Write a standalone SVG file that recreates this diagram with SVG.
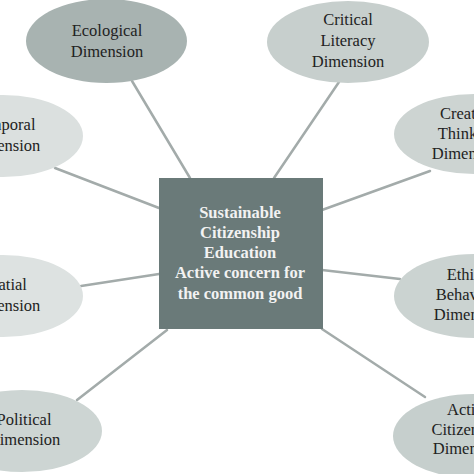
<svg xmlns="http://www.w3.org/2000/svg" width="474" height="474" viewBox="0 0 474 474">
<style>
.bg{fill:#ffffff}
.conn line{stroke:#a3abaa;stroke-width:2.5;stroke-linecap:round}
.lbl{font-family:"Liberation Serif","Times New Roman",serif;font-size:16.5px;fill:#222222;text-anchor:middle}
.ctr{font-family:"Liberation Serif","Times New Roman",serif;font-size:16.5px;font-weight:bold;fill:#f2f2f2;text-anchor:middle}
</style>
<rect class="bg" x="0" y="0" width="474" height="474"/>
<g id="connectors" class="conn">
<line x1="132" y1="81" x2="190" y2="178"/>
<line x1="339" y1="82" x2="274" y2="178"/>
<line x1="55" y1="168" x2="159" y2="208"/>
<line x1="430" y1="171" x2="322" y2="210"/>
<line x1="81" y1="286" x2="159" y2="274"/>
<line x1="322" y1="270" x2="400" y2="279"/>
<line x1="167" y1="330" x2="77" y2="400"/>
<line x1="322" y1="329" x2="425" y2="397"/>
</g>
<g id="ecological">
<ellipse cx="106.5" cy="41" rx="80.5" ry="42" fill="#a8b3b1"/>
<text class="lbl" x="107" y="36">Ecological</text>
<text class="lbl" x="107" y="57">Dimension</text>
</g>
<g id="critical">
<ellipse cx="348" cy="42" rx="81" ry="41" fill="#c7cfcd"/>
<text class="lbl" x="348" y="25">Critical</text>
<text class="lbl" x="348" y="46">Literacy</text>
<text class="lbl" x="348" y="67">Dimension</text>
</g>
<g id="temporal">
<ellipse cx="3" cy="136" rx="80" ry="41" fill="#dbe0df"/>
<text class="lbl" x="4" y="130">Temporal</text>
<text class="lbl" x="4" y="151">Dimension</text>
</g>
<g id="creative">
<ellipse cx="474" cy="134" rx="80" ry="40" fill="#cdd4d2"/>
<text class="lbl" x="468" y="119">Creative</text>
<text class="lbl" x="468" y="139">Thinking</text>
<text class="lbl" x="468" y="159">Dimension</text>
</g>
<g id="spatial">
<ellipse cx="3" cy="296" rx="80" ry="41" fill="#dde2e1"/>
<text class="lbl" x="4" y="290">Spatial</text>
<text class="lbl" x="4" y="311">Dimension</text>
</g>
<g id="ethical">
<ellipse cx="474" cy="296" rx="80" ry="42" fill="#cbd3d1"/>
<text class="lbl" x="470" y="280">Ethical</text>
<text class="lbl" x="470" y="300">Behaviour</text>
<text class="lbl" x="470" y="320">Dimension</text>
</g>
<g id="political">
<ellipse cx="22" cy="431" rx="80" ry="41" fill="#cdd5d3"/>
<text class="lbl" x="24" y="425">Political</text>
<text class="lbl" x="24" y="445">Dimension</text>
</g>
<g id="active">
<ellipse cx="473" cy="436" rx="80" ry="42" fill="#c6cfcd"/>
<text class="lbl" x="469" y="415">Active</text>
<text class="lbl" x="469" y="435">Citizenship</text>
<text class="lbl" x="469" y="454">Dimension</text>
</g>
<g id="center">
<rect x="159" y="178" width="164" height="151" fill="#6a7a79"/>
<text class="ctr" x="240" y="218">Sustainable</text>
<text class="ctr" x="240" y="238">Citizenship</text>
<text class="ctr" x="240" y="258">Education</text>
<text class="ctr" x="240" y="278">Active concern for</text>
<text class="ctr" x="240" y="299">the common good</text>
</g>
</svg>
